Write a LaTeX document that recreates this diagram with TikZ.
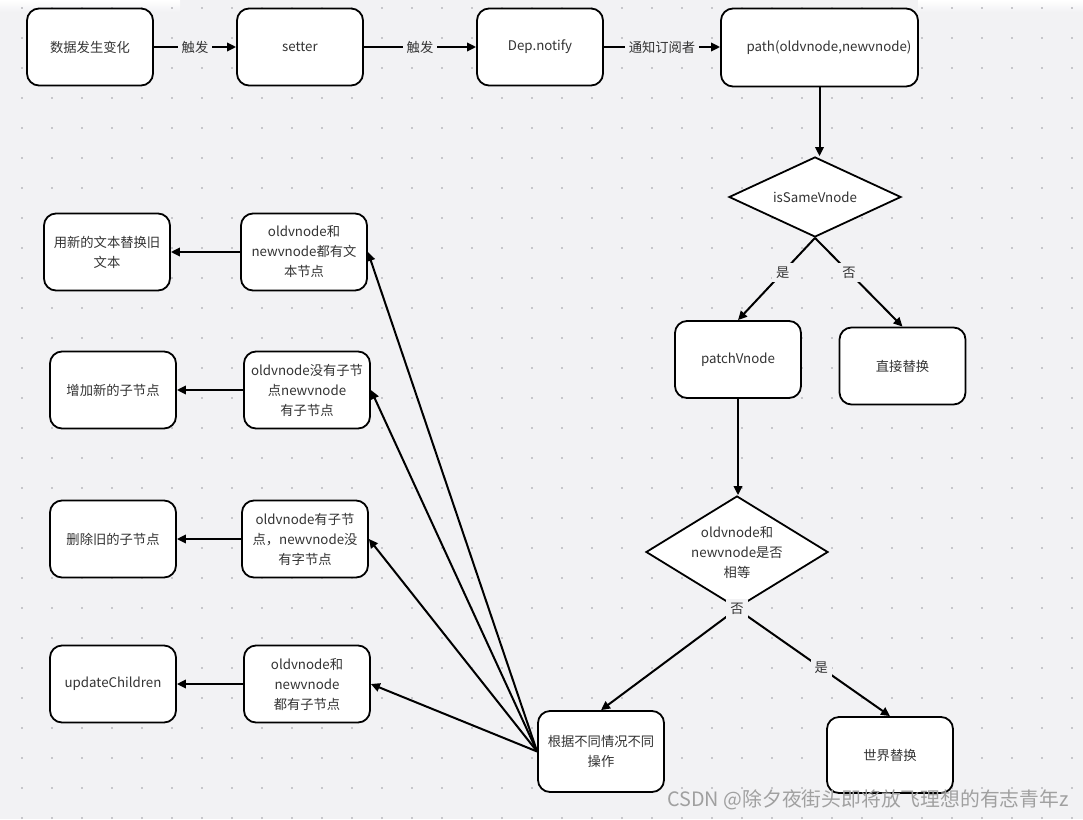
\documentclass[tikz,border=0pt]{standalone}
\usepackage{fontspec}
\setmainfont{Noto Sans CJK SC}
\usetikzlibrary{arrows.meta,shapes.geometric}
\definecolor{bg}{HTML}{F2F2F4}
\definecolor{dotc}{HTML}{C6C6CA}
\definecolor{txt}{HTML}{333333}
\definecolor{wmc}{HTML}{A0A0A0}
\begin{document}
\begin{tikzpicture}[x=1pt,y=-1pt,
 box/.style={draw=black, line width=1.8pt, fill=white, rounded corners=12pt, minimum width=126pt, minimum height=77pt, inner sep=2pt, text=txt, font=\fontsize{13.3}{20}\selectfont, align=center},
 dia/.style={draw=black, line width=1.8pt, fill=white, diamond, inner sep=0pt},
 dtext/.style={text=txt, font=\fontsize{13.3}{20}\selectfont, align=center},
 arr/.style={line width=2pt, -{Triangle[length=9pt,width=8.5pt]}},
 lbl/.style={fill=bg, text=txt, font=\fontsize{13.3}{15}\selectfont, inner sep=4pt}]
\useasboundingbox (0,0) rectangle (1083,819);
\fill[bg] (0,0) rectangle (1083,819);
\shade[top color=white, bottom color=bg] (0,0) rectangle (180,12);
\shade[top color=white, bottom color=bg] (918,0) rectangle (1083,12);
\foreach \i in {0,...,35} {\foreach \j in {0,...,27} {\fill[dotc] ({21+30*\i},{7+30*\j}) rectangle ++(2,2);}}

% top row
\node[box] (n1) at (90,47) {数据发生变化};
\node[box] (n2) at (300,47) {setter};
\node[box] (n3) at (540,47) {Dep.notify};
\node[box, minimum width=197pt, minimum height=78pt] (n4) at (819.5,47.5) {\hspace*{19pt}path(oldvnode,newvnode)};
\draw[arr] (n1) -- node[lbl]{触发} (n2);
\draw[arr] (n2) -- node[lbl]{触发} (n3);
\draw[arr] (n3.east) -- node[lbl]{通知订阅者} (n3.east -| n4.west);

% isSameVnode
\node[dia, minimum width=172pt, minimum height=80pt] (d1) at (815,197) {};
\node[dtext] (d1t) at (d1) {isSameVnode};
\draw[arr] (n4.south) -- (n4.south |- d1.north);

\node[box] (pv) at (738,359.5) {patchVnode};
\node[box] (zz) at (902.5,366) {直接替换};
\draw[arr] (d1.south) -- node[lbl, pos=0.42]{是} (pv.north);
\draw[arr] (d1.south) -- node[lbl, pos=0.39]{否} (zz.north);

% second diamond
\node[dia, minimum width=182pt, minimum height=112pt] (d2) at (737,552) {};
\node[dtext] (d2t) at (d2) {oldvnode和\\newvnode是否\\相等};
\draw[arr] (pv.south) -- (pv.south |- d2.north);

\node[box, minimum height=81pt] (gj) at (601,751.5) {根据不同情况不同\\操作};
\node[box, minimum height=76pt] (sj) at (890,755) {世界替换};
\draw[arr] (d2.south) -- node[lbl, pos=0.55]{是} (sj.north);
\draw[arr] (d2.south) -- node[lbl, pos=0.0]{否} (gj.north);

% left group
\node[box] (r1) at (304,252) {oldvnode和\\newvnode都有文\\本节点};
\node[box] (r2) at (307,390) {oldvnode没有子节\\点newvnode\\有子节点};
\node[box] (r3) at (305,539) {oldvnode有子节\\点，newvnode没\\有字节点};
\node[box] (r4) at (307,684) {oldvnode和\\newvnode\\都有子节点};
\node[box] (l1) at (107,252) {用新的文本替换旧\\文本};
\node[box] (l2) at (113,390) {增加新的子节点};
\node[box] (l3) at (113,539) {删除旧的子节点};
\node[box] (l4) at (113,684) {updateChildren};

\draw[arr] (r1) -- (l1);
\draw[arr] (r2) -- (l2);
\draw[arr] (r3) -- (l3);
\draw[arr] (r4) -- (l4);

\draw[arr] (gj.west) -- (r1.east);
\draw[arr] (gj.west) -- (r2.east);
\draw[arr] (gj.west) -- (r3.east);
\draw[arr] (gj.west) -- (r4.east);

% watermark
\node[text=wmc, font=\fontsize{19.8}{20}\selectfont, inner sep=0pt] (wm) at (868,800) {CSDN @除夕夜街头即将放飞理想的有志青年z};
\end{tikzpicture}
\end{document}
